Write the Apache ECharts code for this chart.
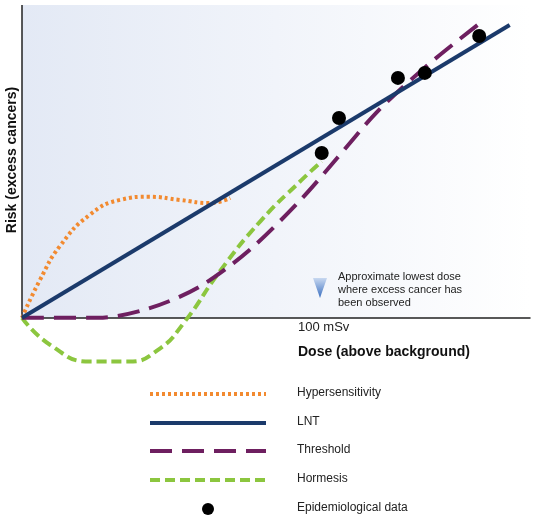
<!DOCTYPE html><html><head><meta charset="utf-8"><script src="https://cdn.jsdelivr.net/npm/echarts@6/dist/echarts.min.js"></script></head><body style="margin:0"><div id="c" style="width:550px;height:524px"></div><script>
const lnt=[[0,0],[96,93.6]];
const epi=[[59,52.7],[62.4,63.9],[74,76.7],[79.3,78.3],[90,90.1]];
const threshold=[[0,0],[15,0],[25,3],[35,10],[45,22],[55,38],[62,51],[70,66],[80,81],[90,94]];
const hormesis=[[0,0],[5.5,-8.6],[13.4,-14],[21,-14],[27,-10],[32,-1.3],[39,15],[47,31],[55,44],[59,50]];
const hyper=[[0,0],[3.5,12],[7.5,23],[13.4,33],[19.3,37.7],[25,38.7],[31,37.7],[37,36.7],[41,38.3]];
const legendNames=['Hypersensitivity','LNT','Threshold','Hormesis','Epidemiological data'];
const C={o:'#f28a30',b:'#1b3a6b',p:'#6e1f60',g:'#8cc63f'};
const ch=echarts.init(document.getElementById('c'));
const styles=[{stroke:C.o,lineWidth:4,lineDash:[3,3]},{stroke:C.b,lineWidth:4},{stroke:C.p,lineWidth:4,lineDash:[22,10]},{stroke:C.g,lineWidth:4,lineDash:[10,5]}];
const g=[
 {type:'rect',left:22,top:5,shape:{width:508,height:313},z:-1,style:{fill:new echarts.graphic.LinearGradient(0,0,1,0,[{offset:0,color:'#e3e9f5'},{offset:1,color:'#ffffff'}])}},
 {type:'text',left:298,top:321,style:{text:'100 mSv',font:'13px Arial',fill:'#222'}},
 {type:'polygon',shape:{points:[[313,278],[327,278],[320,298]]},style:{fill:new echarts.graphic.LinearGradient(0,0,0,1,[{offset:0,color:'#c8d8f0'},{offset:1,color:'#3a6fc0'}])}},
 {type:'text',left:338,top:270,style:{text:'Approximate lowest dose\nwhere excess cancer has\nbeen observed',font:'11px Arial',lineHeight:13,fill:'#222'}},
 {type:'text',left:298,top:345,style:{text:'Dose (above background)',font:'bold 14px Arial',fill:'#111'}},
 {type:'text',x:12,y:160,rotation:Math.PI/2,style:{text:'Risk (excess cancers)',font:'bold 14px Arial',fill:'#111',align:'center',verticalAlign:'middle'}}
];
const ly=[394,423,451,480,509];
for(let i=0;i<4;i++){g.push({type:'line',shape:{x1:150,y1:ly[i],x2:266,y2:ly[i]},style:styles[i]});}
g.push({type:'circle',shape:{cx:208,cy:ly[4],r:6},style:{fill:'#000'}});
legendNames.forEach((n,i)=>g.push({type:'text',left:297,top:ly[i]-7,style:{text:n,font:'12px Arial',fill:'#222'}}));
ch.setOption({
 animation:false,
 grid:{left:22,right:20,top:5,bottom:153},
 xAxis:{type:'value',min:0,max:100,axisLine:{onZero:true,lineStyle:{color:'#222',width:1.5}},axisTick:{show:false},axisLabel:{show:false},splitLine:{show:false}},
 yAxis:{type:'value',min:-17,max:100,axisLine:{show:false},axisTick:{show:false},axisLabel:{show:false},splitLine:{show:false}},
 graphic:g,
 series:[
  {type:'line',data:[[0,0],[0,100]],symbol:'none',lineStyle:{color:'#222',width:1.5}},
  {type:'line',data:hyper,smooth:true,symbol:'none',lineStyle:{color:C.o,width:4,type:[3,3]}},
  {type:'line',data:hormesis,smooth:true,symbol:'none',lineStyle:{color:C.g,width:4,type:[10,5]}},
  {type:'line',data:threshold,smooth:0.3,symbol:'none',lineStyle:{color:C.p,width:4,type:[22,10]}},
  {type:'line',data:lnt,symbol:'none',lineStyle:{color:C.b,width:4}},
  {type:'scatter',data:epi,symbolSize:14,itemStyle:{color:'#000',opacity:1},z:10}
 ]
});
</script></body></html>
